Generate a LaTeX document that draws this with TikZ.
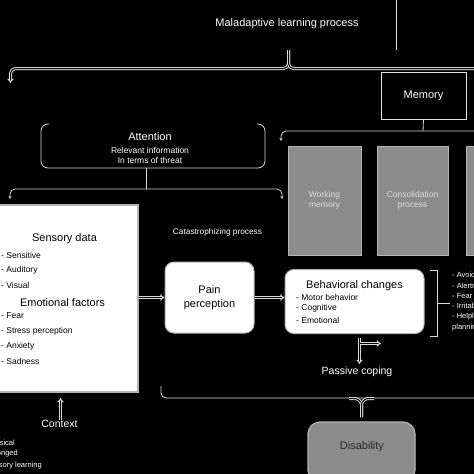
\documentclass[tikz,border=0pt]{standalone}
\usepackage{fontspec}
\setmainfont{Liberation Sans}
\usetikzlibrary{arrows.meta}

\definecolor{linegrey}{HTML}{DADADA}
\definecolor{boxgrey}{HTML}{8C8C8C}
\definecolor{rimgrey}{HTML}{B4B4B4}
\definecolor{memtext}{HTML}{DCDCDC}

\begin{document}
\begin{tikzpicture}[x=1pt, y=-1pt,
    every node/.style={inner sep=0pt},
    bigtxt/.style={font=\fontsize{11}{14}\selectfont},
    smalltxt/.style={font=\fontsize{8.5}{10}\selectfont},
    tinytxt/.style={font=\fontsize{7.5}{9}\selectfont},
    wire/.style={draw=linegrey, line width=0.8pt, rounded corners=5pt},
    dblwire/.style={draw=linegrey, double=black, double distance=1pt, line width=1pt, rounded corners=5pt},
    dblarrow/.style={dblwire, -{Implies}},
    whitebox/.style={draw=rimgrey, fill=white, line width=1pt, rounded corners=9pt},
    greybox/.style={draw=rimgrey, fill=boxgrey, line width=1pt},
  ]
  \fill[black] (0,0) rectangle (474,474);
  \useasboundingbox (0,0) rectangle (474,474);

  % top part
  \node[bigtxt, text=white] (mlp) at (287,24) {Maladaptive learning process};
  \coordinate (topline) at (396,0);
  \coordinate (toplineend) at (396,50);
  \draw[wire, draw=linegrey!80] (topline) -- (toplineend);

  \coordinate (mlpstem) at (288.5,50);
  \coordinate (mlpL) at (10.5,83);
  \coordinate (mlpR) at (474,68.5);
  \draw[dblarrow] (mlpstem) |- (mlpL |- mlpR) -- (mlpL);
  \draw[dblwire] (mlpstem) |- (mlpR);

  % memory
  \node[draw=linegrey!75, fill=black, line width=0.8pt, minimum width=85pt, minimum height=47pt,
        bigtxt, text=white] (memory) at (423.5,95.5) {Memory};
  \coordinate (memJ) at (423,131);
  \coordinate (memL) at (281,141);
  \coordinate (memR) at (474,131);
  \draw[wire] (memory.south) -- (memJ);
  \draw[wire, -{Stealth[length=3pt,width=3pt]}] (memR) -| (memL);

  \foreach \cx/\bw/\lbl [count=\k] in {324.5/73/{Working\\memory}, 412.5/71/{Consolidation\\process}, 503/74/{}}{%
    \node[greybox, minimum width=\bw pt, minimum height=109pt, align=center, text=memtext,
          font=\fontsize{8.5}{10}\selectfont] (mem\k) at (\cx,200.5) {\lbl};
  }

  % attention
  \draw[draw=linegrey, line width=0.8pt, rounded corners=7pt]
    (49,124) -| (41,168) -| (265,124) -- (257,124);
  \node[bigtxt, text=white] (att) at (150,137) {Attention};
  \node[smalltxt, text=white] (attrel) at (150,150) {Relevant information};
  \node[smalltxt, text=white] (attthr) at (150,160.5) {In terms of threat};

  \coordinate (attbot) at (146,168);
  \coordinate (attJ) at (146,189);
  \coordinate (attL) at (10,199);
  \coordinate (attR) at (282,199);
  \draw[wire] (attbot) -- (attJ);
  \draw[wire, {Stealth[length=3pt,width=3pt]}-{Stealth[length=3pt,width=3pt]}] (attL) |- (attJ) -| (attR);

  % sensory data and emotional factors
  \node[draw=rimgrey, fill=white, line width=1.2pt, minimum width=150pt, minimum height=187pt] (sensory) at (63,298.5) {};
  \node[bigtxt] (sensdata) at (64.5,239) {Sensory data};
  \foreach \txt [count=\i from 0] in {Sensitive, Auditory, Visual}{%
    \node[smalltxt, anchor=west] (sens\i) at (1,{255+15.2*\i}) {- \txt};
  }
  \node[bigtxt] (emofac) at (62.5,303) {Emotional factors};
  \foreach \txt [count=\i from 0] in {Fear, Stress perception, Anxiety, Sadness}{%
    \node[smalltxt, anchor=west] (emo\i) at (1,{315.5+15.4*\i}) {- \txt};
  }

  \node[font=\fontsize{8.3}{10}\selectfont, text=white] (catas) at (217.5,232) {Catastrophizing process};

  % pain and behaviour
  \node[whitebox, minimum width=89pt, minimum height=71pt, bigtxt, align=center] (pain) at (209.5,297.5) {Pain\\perception};
  \node[whitebox, minimum width=139pt, minimum height=64pt] (behav) at (354.5,301.5) {};
  \node[bigtxt] (behavtitle) at (354.5,286) {Behavioral changes};
  \foreach \txt [count=\i from 0] in {Motor behavior, Cognitive, Emotional}{%
    \node[smalltxt, anchor=west] (beh\i) at (296,{297+11.5*\i}) {- \txt};
  }

  \draw[dblarrow] (sensory.east |- pain.west) -- (pain.west);
  \draw[dblarrow] (pain.east) -- (pain.east -| behav.west);

  % bracket on the right
  \coordinate (brT) at (430,270);
  \coordinate (brB) at (430,336);
  \coordinate (brM) at (450,303);
  \draw[wire, sharp corners] (brT) -- ++(7,0) |- (brB);
  \draw[wire, sharp corners] (brM) -- ++(-13,0);
  \foreach \txt [count=\i from 0] in {- Avoidance, - Alertness, - Fear, - Irritability, - Helplessness, planning}{%
    \node[tinytxt, text=white, anchor=west] (lst\i) at (452,{275+10.5*\i}) {\txt};
  }

  % passive coping
  \node[font=\fontsize{10.5}{12}\selectfont, text=white] (pcope) at (357,372) {Passive coping};
  \coordinate (pcTop) at (359.5,338);
  \coordinate (pcDown) at (359.5,364);
  \coordinate (pcRight) at (381,343.5);
  \draw[dblarrow] (pcTop) -- (pcDown);
  \draw[dblarrow] (pcTop |- pcRight) -- (pcRight);

  % disability
  \coordinate (botL) at (161,386);
  \coordinate (botR) at (474,398);
  \draw[wire, draw=linegrey!85] (botL) |- (botR);
  \node[draw=rimgrey, fill=boxgrey, rounded corners=12pt, line width=1.2pt, minimum width=107pt, minimum height=60pt] (disab) at (361.5,452) {};
  \node[bigtxt, text=black!85] (disabtxt) at (362,447) {Disability};
  \coordinate (yJ) at (361.5,417);
  \draw[dblwire, rounded corners=7pt] (349,398.5) -| (yJ);
  \draw[dblwire, rounded corners=7pt] (374,398.5) -| (yJ);

  % context
  \node[font=\fontsize{10.5}{12}\selectfont, text=white] (ctx) at (59.5,424) {Context};
  \coordinate (ctxTip) at (60.5,398);
  \draw[dblarrow] (ctx.north -| ctxTip) -- (ctxTip);

  \node[tinytxt, text=white, anchor=east] (lrn1) at (15,443) {Classical};
  \node[tinytxt, text=white, anchor=east] (lrn2) at (18,454) {Prolonged};
  \node[tinytxt, text=white, anchor=east] (lrn3) at (42,466) {Sensory learning};
\end{tikzpicture}
\end{document}
